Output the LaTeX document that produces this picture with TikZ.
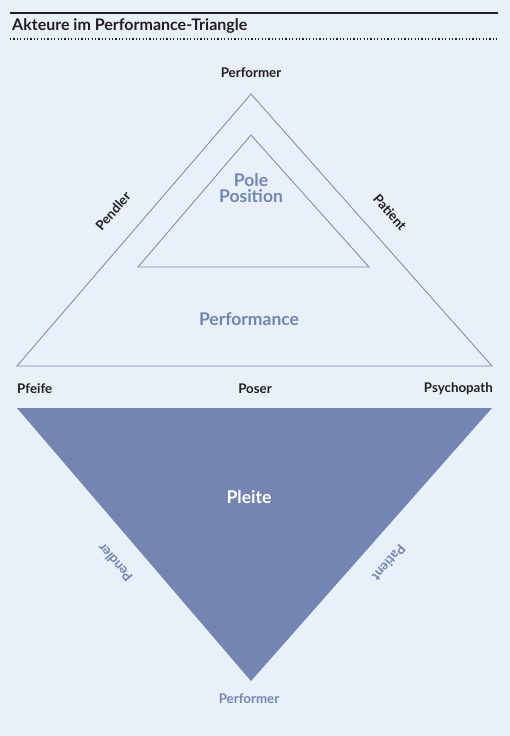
\documentclass[tikz,border=0pt]{standalone}
\usepackage{fontspec}
\setmainfont{Lato}
\usepackage{tikz}
\usetikzlibrary{positioning,calc}
\definecolor{bgblue}{HTML}{E8F0FA}
\definecolor{triblue}{HTML}{7285B3}
\definecolor{inkdark}{HTML}{231F20}

\begin{document}
\begin{tikzpicture}[x=1pt,y=-1pt,
    corner/.style={font=\fontsize{13.3}{15}\selectfont\bfseries,text=inkdark,inner sep=0pt},
    side/.style={font=\fontsize{13.3}{15}\selectfont\bfseries,inner sep=0pt},
    field/.style={font=\fontsize{17.5}{19}\selectfont\bfseries,text=triblue,align=center,inner sep=0pt}]
                % background and frame
                \fill[bgblue] (0,0) rectangle (510,736);
                \useasboundingbox (0,0) rectangle (510,736);
                \draw[inkdark,line width=2pt] (10,13) -- (498,13);
                \node[anchor=base west,inner sep=0pt,font=\fontsize{16}{18}\selectfont\bfseries,text=inkdark] (title) at (12,30) {Akteure im Performance-Triangle};
                \draw[inkdark,line width=1.2pt,dash pattern=on 1.2pt off 2.2pt] (10,39) -- (498,39);
                % upper triangle
                \coordinate (top) at (251,94);
                \coordinate (left) at (17,366);
                \coordinate (right) at (492,366);
                \draw[triblue,line width=0.8pt] (top) -- (left) -- (right) -- cycle;
                \coordinate (itop) at (251,135);
                \coordinate (ileft) at (138,267);
                \coordinate (iright) at (369,267);
                \draw[triblue,line width=0.8pt] (itop) -- (ileft) -- (iright) -- cycle;
                \node[corner] (performer) at (251,73) {Performer};
                \node[field] (pole) at (251,188) {Pole\\[-3pt]Position};
                \node[field] (performance) at (249,319) {Performance};
                \node[side,text=inkdark,rotate=49] (pendler) at (113,211) {Pendler};
                \node[side,text=inkdark,rotate=-49] (patient) at (390,212) {Patient};
                \node[corner,anchor=west] (pfeife) at (17,389) {Pfeife};
                \node[corner] (poser) at (255,389) {Poser};
                \node[corner,anchor=east] (psycho) at (493,389) {Psychopath};
                % lower triangle
                \coordinate (bleft) at (17,408);
                \coordinate (bright) at (492,408);
                \coordinate (bottom) at (251,681);
                \fill[triblue] (bleft) -- (bright) -- (bottom) -- cycle;
                \node[field,text=white] (pleite) at (249,497) {Pleite};
                \node[side,text=triblue,rotate=131] (lpendler) at (115,563) {Pendler};
                \node[side,text=triblue,rotate=-131] (lpatient) at (389,563) {Patient};
                \node[corner,text=triblue] (lperformer) at (249,699) {Performer};
            \end{tikzpicture}
\end{document}
